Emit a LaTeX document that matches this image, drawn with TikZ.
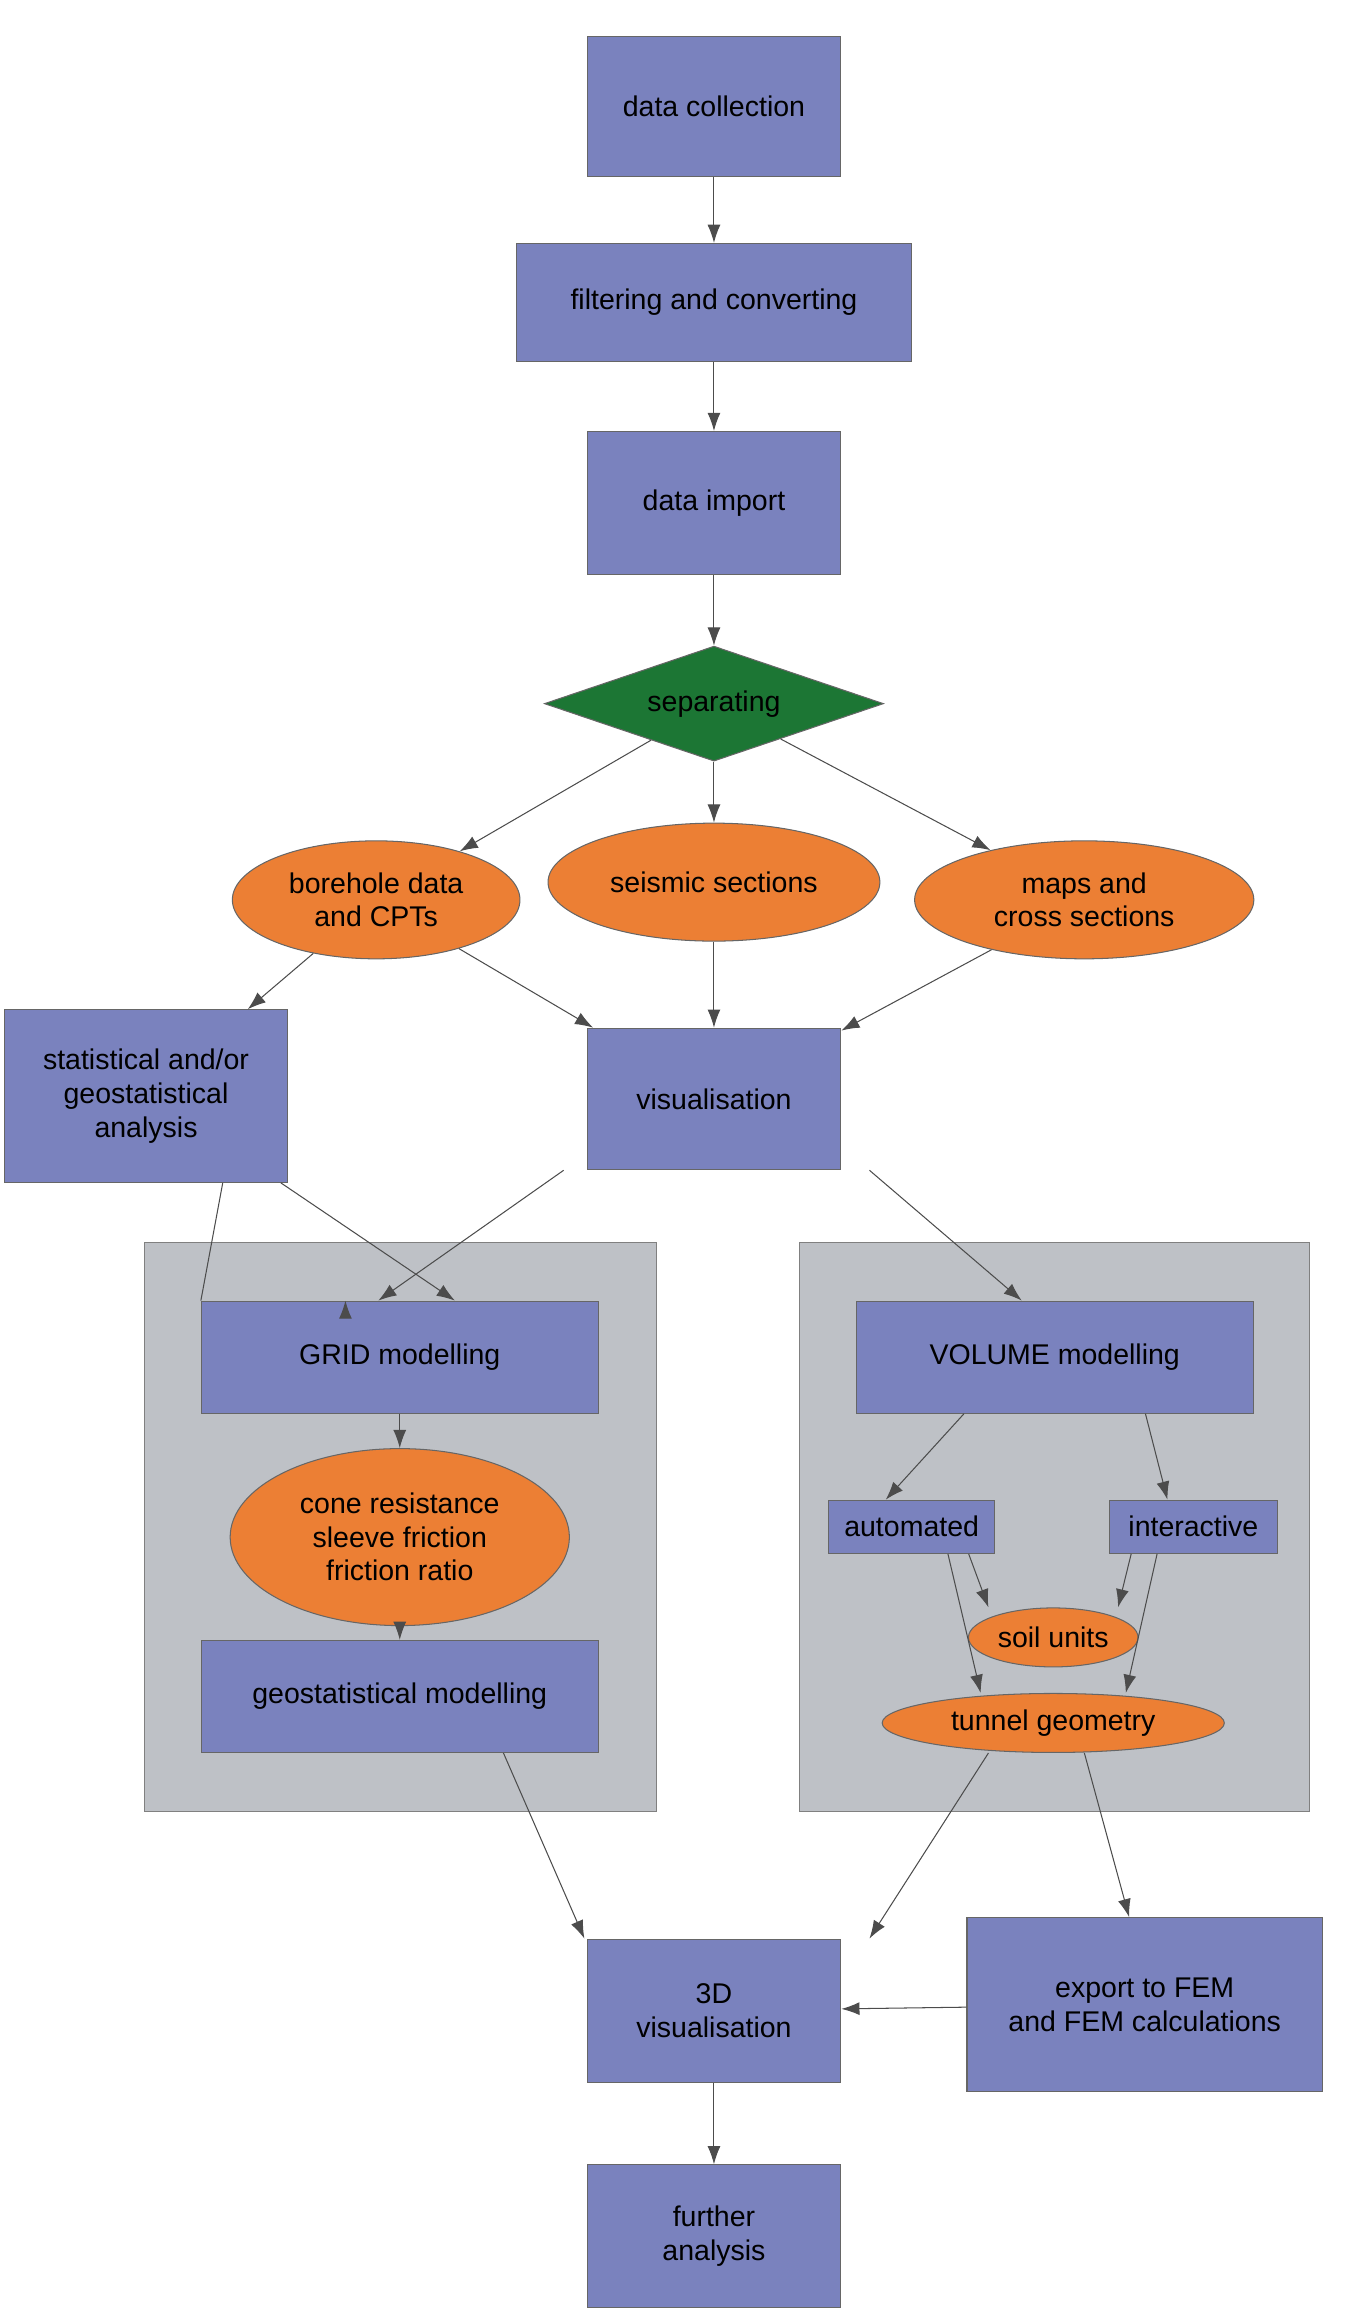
\documentclass[tikz,border=0pt]{standalone}
\usepackage{fontspec}
\setmainfont{Liberation Sans}
\usetikzlibrary{shapes.geometric,arrows.meta,positioning}
\definecolor{boxblue}{RGB}{122,130,190}
\definecolor{ellorange}{RGB}{236,127,52}
\definecolor{sepgreen}{RGB}{28,118,52}
\definecolor{panelgrey}{RGB}{190,193,198}
\tikzset{box/.style={draw=black!60,fill=boxblue,align=center,inner sep=2pt},
         oval/.style={ellipse,draw=black!60,fill=ellorange,align=center,inner sep=0pt},
         link/.style={draw=black!70,-{Latex[length=7pt,width=5pt]}},
         panel/.style={draw=black!50,fill=panelgrey}}
\begin{document}
\begin{tikzpicture}[x=0.02cm,y=-0.02cm,font=\fontsize{11}{13}\selectfont]
  \useasboundingbox (0,0) rectangle (918,1568);
  % grey panels
  \draw[panel] (98,842) rectangle (445,1228);
  \draw[panel] (542,842) rectangle (888,1228);

  \node[box,minimum width=3.44cm,minimum height=1.9cm] (collect) at (484,72) {data collection};
  \node[box,minimum width=5.36cm,minimum height=1.6cm] (filter) at (484,205) {filtering and converting};
  \node[box,minimum width=3.44cm,minimum height=1.94cm] (import) at (484,341) {data import};
  \node[diamond,draw=black!60,fill=sepgreen,aspect=2.95,minimum width=4.6cm,minimum height=1.56cm,inner sep=0pt] (sep) at (484,477) {separating};

  \node[oval,minimum width=3.9cm,minimum height=1.6cm] (bore) at (255,610) {borehole data\\and CPTs};
  \node[oval,minimum width=4.5cm,minimum height=1.6cm] (seis) at (484,598) {seismic sections};
  \node[oval,minimum width=4.6cm,minimum height=1.6cm] (maps) at (735,610) {maps and\\cross sections};

  \node[box,minimum width=3.84cm,minimum height=2.34cm] (stat) at (99,743) {statistical and/or\\geostatistical\\analysis};
  \node[box,minimum width=3.44cm,minimum height=1.92cm] (vis) at (484,745) {visualisation};

  \node[box,minimum width=5.38cm,minimum height=1.52cm] (grid) at (271,920) {GRID modelling};
  \node[oval,minimum width=4.6cm,minimum height=2.4cm] (cone) at (271,1042) {cone resistance\\sleeve friction\\friction ratio};
  \node[box,minimum width=5.38cm,minimum height=1.52cm] (geo) at (271,1150) {geostatistical modelling};

  \node[box,minimum width=5.38cm,minimum height=1.52cm] (volume) at (715,920) {VOLUME modelling};
  \node[box,minimum width=2.26cm,minimum height=0.72cm] (auto) at (618,1035) {automated};
  \node[box,minimum width=2.28cm,minimum height=0.72cm] (inter) at (809,1035) {interactive};
  \node[oval,minimum width=2.3cm,minimum height=0.8cm] (soil) at (714,1110) {soil units};
  \node[oval,minimum width=4.64cm,minimum height=0.8cm] (tunnel) at (714,1168) {tunnel geometry};

  \node[box,minimum width=3.44cm,minimum height=1.94cm] (vis3d) at (484,1363) {3D\\visualisation};
  \node[box,minimum width=4.82cm,minimum height=2.36cm] (export) at (776,1359) {export to FEM\\and FEM calculations};
  \node[box,minimum width=3.44cm,minimum height=1.94cm] (further) at (484,1516) {further\\analysis};

  \draw[link] (collect) -- (filter);
  \draw[link] (filter) -- (import);
  \draw[link] (import) -- (sep);
  \draw[link] (sep) -- (bore);
  \draw[link] (sep) -- (seis);
  \draw[link] (sep) -- (maps);
  \draw[link] (bore) -- (stat);
  \draw[link] (bore) -- (vis);
  \draw[link] (seis) -- (vis);
  \draw[link] (maps) -- (vis);
  \draw[link] (stat.south) ++(52,0) -- (grid.north west) ++(98,0);
  \draw[link] ([xshift=52]stat.south) -- ([xshift=98]grid.north west);
  \draw[link] ([xshift=-58]vis.south) -- ([xshift=-85]grid.north east);
  \draw[link] ([xshift=60]vis.south) -- ([xshift=64]volume.north west);
  \draw[link] (grid) -- (cone);
  \draw[link] (cone) -- (geo);
  \draw[link] ([xshift=-35]volume.south) -- ([xshift=-10]auto.north);
  \draw[link] ([xshift=35]volume.south) -- ([xshift=-10]inter.north);
  \draw[link] ([xshift=22]auto.south) -- ([xshift=-25]soil.north);
  \draw[link] ([xshift=14]auto.south) -- ([xshift=-28]tunnel.north);
  \draw[link] ([xshift=-24]inter.south) -- ([xshift=25]soil.north);
  \draw[link] ([xshift=-14]inter.south) -- ([xshift=28]tunnel.north);
  \draw[link] ([xshift=40]geo.south) -- ([xshift=-50]vis3d.north);
  \draw[link] ([xshift=-25]tunnel.south) -- ([xshift=60]vis3d.north);
  \draw[link] ([xshift=12]tunnel.south) -- ([xshift=-6]export.north);
  \draw[link] (export) -- (vis3d);
  \draw[link] (vis3d) -- (further);
\end{tikzpicture}
\end{document}
